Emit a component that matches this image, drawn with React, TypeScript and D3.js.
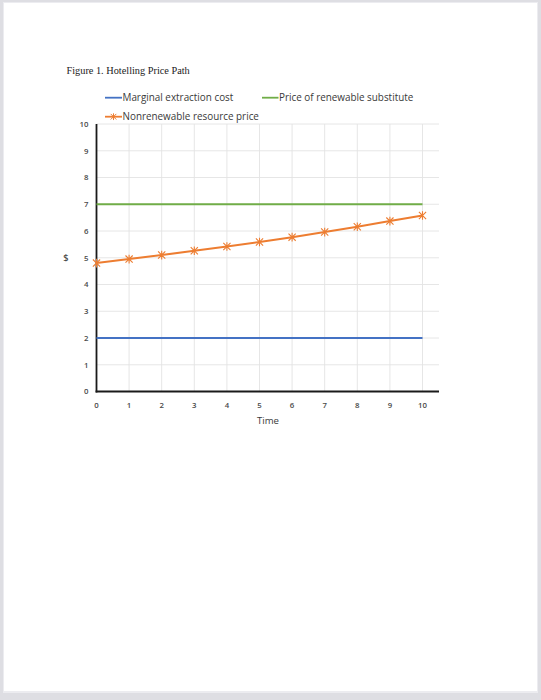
import React from "react";
import * as d3 from "d3";

const times = [0, 1, 2, 3, 4, 5, 6, 7, 8, 9, 10];
const marginalCost = [2, 2, 2, 2, 2, 2, 2, 2, 2, 2, 2];
const renewablePrice = [7, 7, 7, 7, 7, 7, 7, 7, 7, 7, 7];
const nonrenewablePrice = [4.8, 4.95, 5.1, 5.26, 5.42, 5.59, 5.77, 5.96, 6.16, 6.37, 6.58];
const yTicks = [0, 1, 2, 3, 4, 5, 6, 7, 8, 9, 10];
const xTicks = [0, 1, 2, 3, 4, 5, 6, 7, 8, 9, 10];
const title = "Figure 1. Hotelling Price Path";
const seriesNames = ["Marginal extraction cost", "Price of renewable substitute", "Nonrenewable resource price"];
const colors = ["#4472C4", "#70AD47", "#ED7D31"];

export default function App() {
  const W = 541, H = 700;
  const x0 = 96.5, xEnd = 422.5, xAxisEnd = 439;
  const y0 = 391.5, yTop = 124;
  const x = d3.scaleLinear().domain([0, 10]).range([x0, xEnd]);
  const y = d3.scaleLinear().domain([0, 10]).range([y0, yTop]);
  const line = d3.line<number>().x((_, i) => x(times[i])).y((d) => y(d));
  const sans = "'Open Sans', 'DejaVu Sans', sans-serif";
  const tickColor = "#4a4a4a";
  const gridColor = "#e3e3e3";

  const star = (cx: number, cy: number, r: number) =>
    `M${cx - r},${cy - r}L${cx + r},${cy + r}M${cx - r},${cy + r}L${cx + r},${cy - r}M${cx},${cy - r * 1.2}L${cx},${cy + r * 1.2}`;

  return (
    <svg width={W} height={H} style={{ position: "absolute", left: 0, top: 0 }}>
      <rect x={0} y={0} width={W} height={H} fill="#dedee3" />
      <rect x={3} y={2} width={W - 6} height={H - 9} fill="#ececf0" />
      <rect x={4} y={3} width={W - 8} height={H - 12} fill="#ffffff" />

      <text x={66.5} y={74} fontFamily="'Liberation Serif', 'Times New Roman', serif" fontSize={10.3} fill="#222">
        {title}
      </text>

      {/* legend */}
      <g fontFamily={sans} fontSize={9.9} fill="#3a3a3a">
        <line x1={105} x2={122} y1={97.7} y2={97.7} stroke={colors[0]} strokeWidth={1.8} />
        <text x={122.5} y={101.2}>{seriesNames[0]}</text>
        <line x1={262} x2={278.5} y1={97.7} y2={97.7} stroke={colors[1]} strokeWidth={1.8} />
        <text x={279} y={101.2}>{seriesNames[1]}</text>
        <line x1={105} x2={122} y1={116.7} y2={116.7} stroke={colors[2]} strokeWidth={1.8} />
        <path d={star(113.5, 116.7, 2.8)} stroke={colors[2]} strokeWidth={1} fill="none" />
        <text x={122.5} y={120.2}>{seriesNames[2]}</text>
      </g>

      {/* grid */}
      {yTicks.map((t) => (
        <line key={"gy" + t} x1={x0} x2={xAxisEnd} y1={y(t)} y2={y(t)} stroke={gridColor} strokeWidth={0.9} />
      ))}
      {xTicks.map((t) => (
        <line key={"gx" + t} x1={x(t)} x2={x(t)} y1={yTop} y2={y0} stroke={gridColor} strokeWidth={0.9} />
      ))}

      {/* axes */}
      <line x1={x0} x2={x0} y1={yTop} y2={y0 + 1} stroke="#1a1a1a" strokeWidth={1.8} />
      <line x1={x0 - 0.9} x2={xAxisEnd} y1={y0} y2={y0} stroke="#1a1a1a" strokeWidth={1.8} />

      {/* tick labels */}
      <g fontFamily={sans} fontSize={7.8} fontWeight={600} fill={tickColor}>
        {yTicks.map((t) => (
          <text key={"yl" + t} x={88.5} y={y(t) + 2.8} textAnchor="end">{t}</text>
        ))}
        {xTicks.map((t) => (
          <text key={"xl" + t} x={x(t)} y={408} textAnchor="middle">{t}</text>
        ))}
      </g>
      <text x={66} y={261} fontFamily={sans} fontSize={9.2} fontWeight={600} fill={tickColor} textAnchor="middle">$</text>
      <text x={268} y={423.5} fontFamily={sans} fontSize={9.6} fill="#3a3a3a" textAnchor="middle">Time</text>

      {/* series */}
      <path d={line(marginalCost) || ""} stroke={colors[0]} strokeWidth={1.9} fill="none" />
      <path d={line(renewablePrice) || ""} stroke={colors[1]} strokeWidth={1.9} fill="none" />
      <path d={line(nonrenewablePrice) || ""} stroke={colors[2]} strokeWidth={2} fill="none" />
      {nonrenewablePrice.map((v, i) => (
        <path key={"m" + i} d={star(x(times[i]), y(v), 3.6)} stroke={colors[2]} strokeWidth={1.1} fill="none" />
      ))}
    </svg>
  );
}
